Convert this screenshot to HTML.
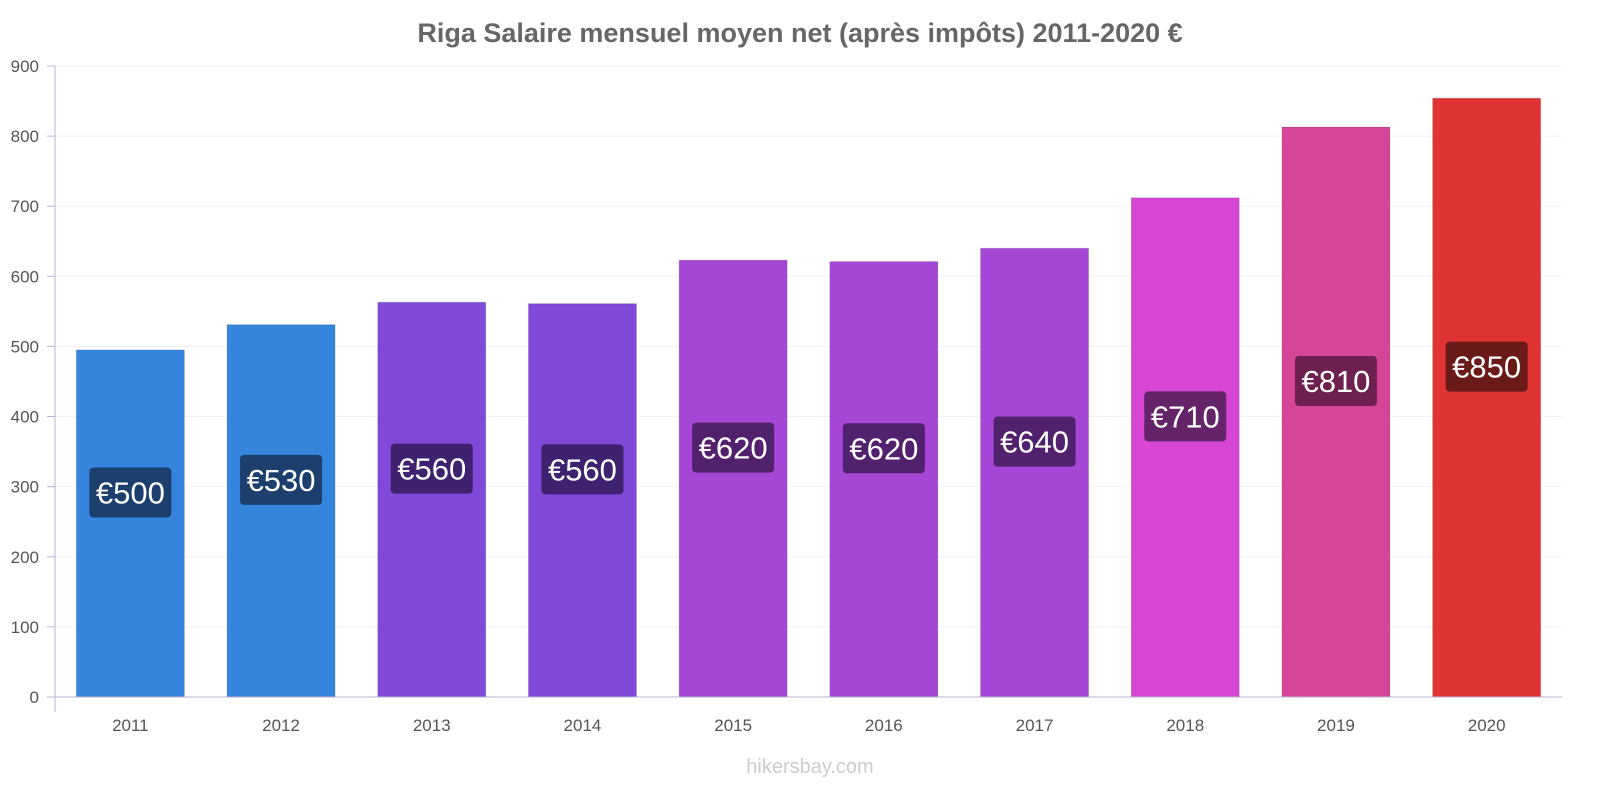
<!DOCTYPE html>
<html><head><meta charset="utf-8"><style>
html,body{margin:0;padding:0;background:#fff;font-family:"Liberation Sans",sans-serif;overflow:hidden;width:1600px;height:800px}
svg{display:block}
</style></head><body>
<svg width="1600" height="800" xmlns="http://www.w3.org/2000/svg">
<text x="800" y="42" text-anchor="middle" font-size="27" font-weight="bold" fill="#666">Riga Salaire mensuel moyen net (après impôts) 2011-2020 €</text>
<g id="grid"></g>
<g id="bars"></g>
<g id="axes"></g>
<text x="810" y="773" text-anchor="middle" font-size="20" fill="#ccc">hikersbay.com</text>
</svg>
<script>
const categories=["2011","2012","2013","2014","2015","2016","2017","2018","2019","2020"];
const values=[495,531,563,561,623,621,640,712,813,854];
const labels=["€500","€530","€560","€560","€620","€620","€640","€710","€810","€850"];
const yTicks=[0,100,200,300,400,500,600,700,800,900];
const colors=["#3584de","#3584de","#8049d8","#8049d8","#a646d6","#a646d6","#a646d6","#d646d2","#d64697","#e03434"];
const labelBgs=["#1c3f6e","#1c3f6e","#3e2270","#3e2270","#52216e","#52216e","#52216e","#65246a","#6e2150","#6b1a1a"];
const NS="http://www.w3.org/2000/svg";
const x0=55,x1=1562,yBase=697,yTop=66,yMax=900;
const y=v=>yBase-(v/yMax)*(yBase-yTop);
const bw=(x1-x0)/categories.length;
const xc=i=>x0+bw*(i+0.5);
function mk(t,a,p,txt){const e=document.createElementNS(NS,t);for(const k in a)e.setAttribute(k,a[k]);if(txt!==undefined)e.textContent=txt;p.appendChild(e);return e;}
const grid=document.getElementById('grid'),bars=document.getElementById('bars'),axes=document.getElementById('axes');
yTicks.forEach(t=>{
 const l=mk('line',{x1:x0,x2:x1,y1:y(t),y2:y(t),stroke:'#f2f2f2'},grid);
 
 
 const tk=mk('line',{x1:x0-8,x2:x0,y1:y(t),y2:y(t),stroke:'#b9b0d0'},axes);
 
 
 const tx=mk('text',{x:x0-16,y:y(t)+6,'text-anchor':'end','font-size':17,fill:'#555'},axes,String(t));
 
 
});
categories.forEach((c,i)=>{
 const w=108,top=y(values[i]);
 const r=mk('rect',{x:xc(i)-w/2,y:top,width:w,height:yBase-top,fill:colors[i],stroke:'rgba(0,0,0,0.12)'},bars);
 
 
 const cy=(top+yBase)/2-31;
 const b=mk('rect',{x:xc(i)-41,y:cy-25,width:82,height:50,rx:4,fill:labelBgs[i]},bars);
 
 
 const t=mk('text',{x:xc(i),y:cy+11,'text-anchor':'middle','font-size':31,fill:'#fff'},bars,labels[i]);
 
 
 const xl=mk('text',{x:xc(i),y:731,'text-anchor':'middle','font-size':17,fill:'#555'},axes,c);
 
 
});
const ya=mk('line',{x1:x0,x2:x0,y1:yTop,y2:yBase+15,stroke:'#b9b0d0'},axes);


const xa=mk('line',{x1:x0,x2:x1,y1:yBase,y2:yBase,stroke:'#b9b0d0'},axes);


</script>
</body></html>
